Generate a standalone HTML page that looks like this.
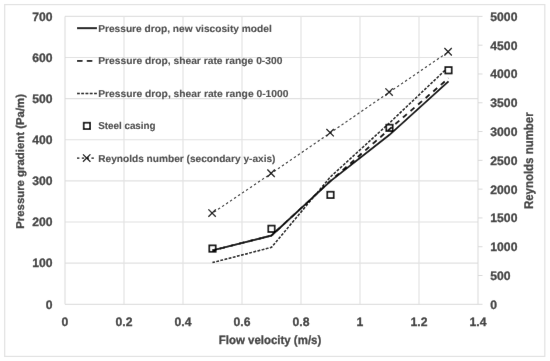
<!DOCTYPE html><html><head><meta charset="utf-8"><title>Chart</title><style>html,body{margin:0;padding:0;background:#fff;}svg{display:block;}</style></head><body>
<svg width="550" height="361" viewBox="0 0 550 361" text-rendering="geometricPrecision">
<defs><filter id="soft" x="0" y="0" width="550" height="361" filterUnits="userSpaceOnUse"><feConvolveMatrix order="3" kernelMatrix="0.0019 0.0439 0.0019 0.0439 1 0.0439 0.0019 0.0439 0.0019" edgeMode="duplicate"/></filter></defs>
<g filter="url(#soft)">
<rect x="0" y="0" width="550" height="361" fill="#fff"/>
<rect x="4.7" y="4.6" width="540.1" height="351.8" fill="none" stroke="#e2e2e2" stroke-width="1.2"/>
<g stroke="#e1e1e1" stroke-width="1.1"><line x1="65.0" y1="263.17" x2="478.0" y2="263.17"/><line x1="65.0" y1="222.04" x2="478.0" y2="222.04"/><line x1="65.0" y1="180.91" x2="478.0" y2="180.91"/><line x1="65.0" y1="139.79" x2="478.0" y2="139.79"/><line x1="65.0" y1="98.66" x2="478.0" y2="98.66"/><line x1="65.0" y1="57.53" x2="478.0" y2="57.53"/><line x1="65.0" y1="16.40" x2="478.0" y2="16.40"/><line x1="124.00" y1="16.4" x2="124.00" y2="304.3"/><line x1="183.00" y1="16.4" x2="183.00" y2="304.3"/><line x1="242.00" y1="16.4" x2="242.00" y2="304.3"/><line x1="301.00" y1="16.4" x2="301.00" y2="304.3"/><line x1="360.00" y1="16.4" x2="360.00" y2="304.3"/><line x1="419.00" y1="16.4" x2="419.00" y2="304.3"/></g>
<g stroke="#d9d9d9" stroke-width="1"><line x1="65.0" y1="304.3" x2="478.0" y2="304.3"/><line x1="65.0" y1="16.4" x2="65.0" y2="304.3"/><line x1="478.0" y1="16.4" x2="478.0" y2="304.3"/>
<line x1="478.0" y1="304.30" x2="482.5" y2="304.30"/>
<line x1="478.0" y1="275.51" x2="482.5" y2="275.51"/>
<line x1="478.0" y1="246.72" x2="482.5" y2="246.72"/>
<line x1="478.0" y1="217.93" x2="482.5" y2="217.93"/>
<line x1="478.0" y1="189.14" x2="482.5" y2="189.14"/>
<line x1="478.0" y1="160.35" x2="482.5" y2="160.35"/>
<line x1="478.0" y1="131.56" x2="482.5" y2="131.56"/>
<line x1="478.0" y1="102.77" x2="482.5" y2="102.77"/>
<line x1="478.0" y1="73.98" x2="482.5" y2="73.98"/>
<line x1="478.0" y1="45.19" x2="482.5" y2="45.19"/>
<line x1="478.0" y1="16.40" x2="482.5" y2="16.40"/>
</g>
<text x="52.6" y="308.60" text-anchor="end" font-size="12.2" font-family="Liberation Sans, Arial, sans-serif" font-weight="bold" fill="#424242" stroke="#424242" stroke-width="0.3">0</text>
<text x="52.6" y="267.47" text-anchor="end" font-size="12.2" font-family="Liberation Sans, Arial, sans-serif" font-weight="bold" fill="#424242" stroke="#424242" stroke-width="0.3">100</text>
<text x="52.6" y="226.34" text-anchor="end" font-size="12.2" font-family="Liberation Sans, Arial, sans-serif" font-weight="bold" fill="#424242" stroke="#424242" stroke-width="0.3">200</text>
<text x="52.6" y="185.21" text-anchor="end" font-size="12.2" font-family="Liberation Sans, Arial, sans-serif" font-weight="bold" fill="#424242" stroke="#424242" stroke-width="0.3">300</text>
<text x="52.6" y="144.09" text-anchor="end" font-size="12.2" font-family="Liberation Sans, Arial, sans-serif" font-weight="bold" fill="#424242" stroke="#424242" stroke-width="0.3">400</text>
<text x="52.6" y="102.96" text-anchor="end" font-size="12.2" font-family="Liberation Sans, Arial, sans-serif" font-weight="bold" fill="#424242" stroke="#424242" stroke-width="0.3">500</text>
<text x="52.6" y="61.83" text-anchor="end" font-size="12.2" font-family="Liberation Sans, Arial, sans-serif" font-weight="bold" fill="#424242" stroke="#424242" stroke-width="0.3">600</text>
<text x="52.6" y="20.70" text-anchor="end" font-size="12.2" font-family="Liberation Sans, Arial, sans-serif" font-weight="bold" fill="#424242" stroke="#424242" stroke-width="0.3">700</text>
<text x="490.3" y="308.80" font-size="12.2" font-family="Liberation Sans, Arial, sans-serif" font-weight="bold" fill="#424242" stroke="#424242" stroke-width="0.3">0</text>
<text x="490.3" y="280.01" font-size="12.2" font-family="Liberation Sans, Arial, sans-serif" font-weight="bold" fill="#424242" stroke="#424242" stroke-width="0.3">500</text>
<text x="490.3" y="251.22" font-size="12.2" font-family="Liberation Sans, Arial, sans-serif" font-weight="bold" fill="#424242" stroke="#424242" stroke-width="0.3">1000</text>
<text x="490.3" y="222.43" font-size="12.2" font-family="Liberation Sans, Arial, sans-serif" font-weight="bold" fill="#424242" stroke="#424242" stroke-width="0.3">1500</text>
<text x="490.3" y="193.64" font-size="12.2" font-family="Liberation Sans, Arial, sans-serif" font-weight="bold" fill="#424242" stroke="#424242" stroke-width="0.3">2000</text>
<text x="490.3" y="164.85" font-size="12.2" font-family="Liberation Sans, Arial, sans-serif" font-weight="bold" fill="#424242" stroke="#424242" stroke-width="0.3">2500</text>
<text x="490.3" y="136.06" font-size="12.2" font-family="Liberation Sans, Arial, sans-serif" font-weight="bold" fill="#424242" stroke="#424242" stroke-width="0.3">3000</text>
<text x="490.3" y="107.27" font-size="12.2" font-family="Liberation Sans, Arial, sans-serif" font-weight="bold" fill="#424242" stroke="#424242" stroke-width="0.3">3500</text>
<text x="490.3" y="78.48" font-size="12.2" font-family="Liberation Sans, Arial, sans-serif" font-weight="bold" fill="#424242" stroke="#424242" stroke-width="0.3">4000</text>
<text x="490.3" y="49.69" font-size="12.2" font-family="Liberation Sans, Arial, sans-serif" font-weight="bold" fill="#424242" stroke="#424242" stroke-width="0.3">4500</text>
<text x="490.3" y="20.90" font-size="12.2" font-family="Liberation Sans, Arial, sans-serif" font-weight="bold" fill="#424242" stroke="#424242" stroke-width="0.3">5000</text>
<text x="65.00" y="326.2" text-anchor="middle" font-size="12.2" font-family="Liberation Sans, Arial, sans-serif" font-weight="bold" fill="#424242" stroke="#424242" stroke-width="0.3">0</text>
<text x="124.00" y="326.2" text-anchor="middle" font-size="12.2" font-family="Liberation Sans, Arial, sans-serif" font-weight="bold" fill="#424242" stroke="#424242" stroke-width="0.3">0.2</text>
<text x="183.00" y="326.2" text-anchor="middle" font-size="12.2" font-family="Liberation Sans, Arial, sans-serif" font-weight="bold" fill="#424242" stroke="#424242" stroke-width="0.3">0.4</text>
<text x="242.00" y="326.2" text-anchor="middle" font-size="12.2" font-family="Liberation Sans, Arial, sans-serif" font-weight="bold" fill="#424242" stroke="#424242" stroke-width="0.3">0.6</text>
<text x="301.00" y="326.2" text-anchor="middle" font-size="12.2" font-family="Liberation Sans, Arial, sans-serif" font-weight="bold" fill="#424242" stroke="#424242" stroke-width="0.3">0.8</text>
<text x="360.00" y="326.2" text-anchor="middle" font-size="12.2" font-family="Liberation Sans, Arial, sans-serif" font-weight="bold" fill="#424242" stroke="#424242" stroke-width="0.3">1</text>
<text x="419.00" y="326.2" text-anchor="middle" font-size="12.2" font-family="Liberation Sans, Arial, sans-serif" font-weight="bold" fill="#424242" stroke="#424242" stroke-width="0.3">1.2</text>
<text x="478.00" y="326.2" text-anchor="middle" font-size="12.2" font-family="Liberation Sans, Arial, sans-serif" font-weight="bold" fill="#424242" stroke="#424242" stroke-width="0.3">1.4</text>
<text x="270" y="344.2" text-anchor="middle" font-size="12" textLength="102.5" lengthAdjust="spacingAndGlyphs" font-family="Liberation Sans, Arial, sans-serif" font-weight="bold" fill="#424242" stroke="#424242" stroke-width="0.3">Flow velocity (m/s)</text>
<text transform="translate(24.2,161.4) rotate(-90)" text-anchor="middle" font-size="11.4" font-family="Liberation Sans, Arial, sans-serif" font-weight="bold" fill="#424242" stroke="#424242" stroke-width="0.3">Pressure gradient (Pa/m)</text>
<text transform="translate(533.2,160.7) rotate(-90)" text-anchor="middle" font-size="12.6" textLength="96.8" lengthAdjust="spacingAndGlyphs" font-family="Liberation Sans, Arial, sans-serif" font-weight="bold" fill="#424242" stroke="#424242" stroke-width="0.3">Reynolds number</text>
<polyline points="212.50,262.60 271.50,247.34 330.50,176.80 389.50,122.92 448.50,66.99" fill="none" stroke="#000" stroke-width="1.5" stroke-dasharray="2.8 1.46" stroke-dashoffset="0.36"/>
<polyline points="212.50,250.42 271.50,235.53 330.50,180.91 389.50,129.09 448.50,78.30" fill="none" stroke="#000" stroke-width="1.85" stroke-dasharray="5.2 4.8" stroke-dashoffset="2.5"/>
<polyline points="212.50,250.42 271.50,235.53 330.50,181.12 389.50,134.85 448.50,81.38" fill="none" stroke="#000" stroke-width="1.9"/>
<polyline points="212.50,213.09 271.50,173.25 330.50,132.71 389.50,92.06 448.50,51.75" fill="none" stroke="#2a2a2a" stroke-width="1.15" stroke-dasharray="2.37 2.45" stroke-dashoffset="2.89"/>
<rect x="209.30" y="245.37" width="6.4" height="6.4" fill="none" stroke="#000" stroke-width="1.7"/>
<rect x="268.30" y="225.59" width="6.4" height="6.4" fill="none" stroke="#000" stroke-width="1.7"/>
<rect x="327.30" y="191.70" width="6.4" height="6.4" fill="none" stroke="#000" stroke-width="1.7"/>
<rect x="386.30" y="124.66" width="6.4" height="6.4" fill="none" stroke="#000" stroke-width="1.7"/>
<rect x="445.30" y="67.08" width="6.4" height="6.4" fill="#fff" stroke="#000" stroke-width="1.7"/>
<path d="M208.40,209.39L215.80,216.79M215.80,209.39L208.40,216.79" stroke="#000" stroke-width="1.25" fill="none"/>
<path d="M267.40,169.55L274.80,176.95M274.80,169.55L267.40,176.95" stroke="#000" stroke-width="1.25" fill="none"/>
<path d="M326.40,129.01L333.80,136.41M333.80,129.01L326.40,136.41" stroke="#000" stroke-width="1.25" fill="none"/>
<path d="M385.40,88.36L392.80,95.76M392.80,88.36L385.40,95.76" stroke="#000" stroke-width="1.25" fill="none"/>
<path d="M444.40,48.05L451.80,55.45M451.80,48.05L444.40,55.45" stroke="#000" stroke-width="1.25" fill="none"/>
<text x="98.2" y="31.6" font-size="10.0" textLength="173.6" lengthAdjust="spacingAndGlyphs" font-family="Liberation Sans, Arial, sans-serif" font-weight="bold" fill="#4a4a4a" stroke="#4a4a4a" stroke-width="0.12">Pressure drop, new viscosity model</text>
<text x="98.2" y="64.4" font-size="10.0" textLength="184.2" lengthAdjust="spacingAndGlyphs" font-family="Liberation Sans, Arial, sans-serif" font-weight="bold" fill="#4a4a4a" stroke="#4a4a4a" stroke-width="0.12">Pressure drop, shear rate range 0-300</text>
<text x="98.2" y="96.6" font-size="10.0" textLength="190.3" lengthAdjust="spacingAndGlyphs" font-family="Liberation Sans, Arial, sans-serif" font-weight="bold" fill="#4a4a4a" stroke="#4a4a4a" stroke-width="0.12">Pressure drop, shear rate range 0-1000</text>
<text x="98.2" y="129.2" font-size="10.0" textLength="57.4" lengthAdjust="spacingAndGlyphs" font-family="Liberation Sans, Arial, sans-serif" font-weight="bold" fill="#4a4a4a" stroke="#4a4a4a" stroke-width="0.12">Steel casing</text>
<text x="98.2" y="161.7" font-size="10.0" textLength="177.3" lengthAdjust="spacingAndGlyphs" font-family="Liberation Sans, Arial, sans-serif" font-weight="bold" fill="#4a4a4a" stroke="#4a4a4a" stroke-width="0.12">Reynolds number (secondary y-axis)</text>
<line x1="77" y1="28.20" x2="97" y2="28.20" stroke="#000" stroke-width="1.9"/>
<line x1="77" y1="60.90" x2="95" y2="60.90" stroke="#000" stroke-width="1.85" stroke-dasharray="5.5 4.3"/>
<line x1="77" y1="93.40" x2="97" y2="93.40" stroke="#000" stroke-width="1.5" stroke-dasharray="2.8 1.46"/>
<rect x="83.70" y="122.70" width="6.4" height="6.4" fill="none" stroke="#000" stroke-width="1.7"/>
<line x1="77" y1="158.10" x2="95" y2="158.10" stroke="#000" stroke-width="1.15" stroke-dasharray="2.37 2.45"/>
<path d="M83.00,154.40L90.40,161.80M90.40,154.40L83.00,161.80" stroke="#000" stroke-width="1.25" fill="none"/>
</g></svg></body></html>
